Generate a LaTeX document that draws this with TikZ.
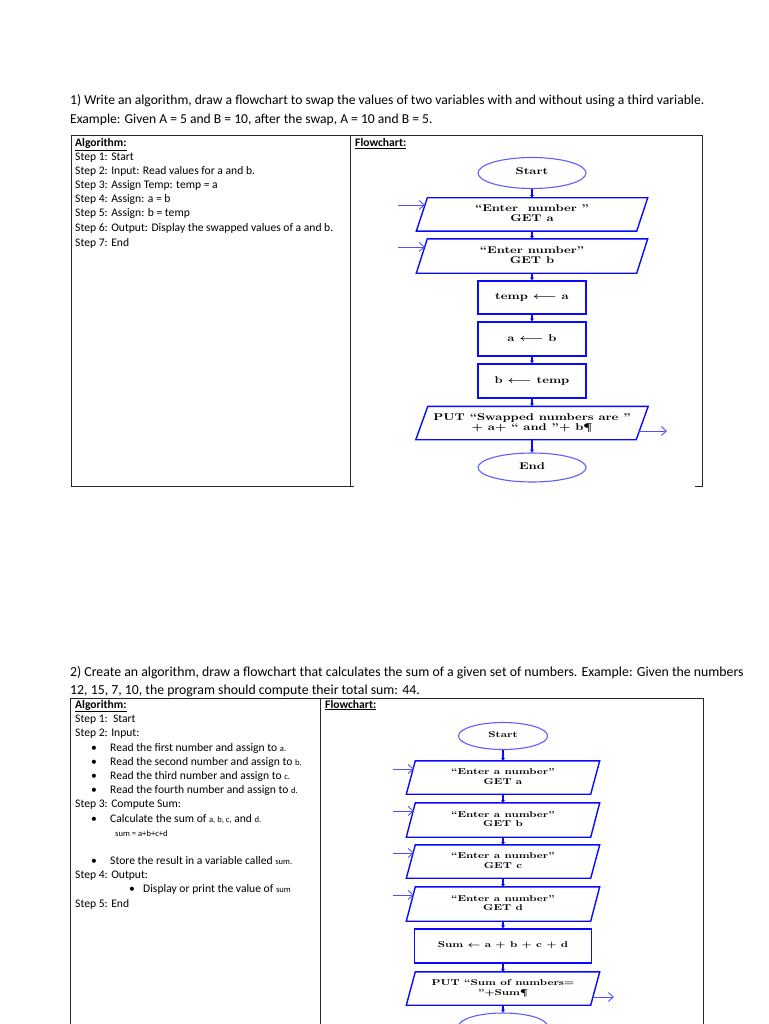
\documentclass[tikz,border=0pt]{standalone}
\usepackage{fontspec}
\usepackage{graphicx}
\usetikzlibrary{arrows.meta,shapes.geometric}
\newfontfamily\calfont{Carlito}
\definecolor{fcblue}{RGB}{10,10,255}
\definecolor{elblue}{RGB}{95,95,255}
\definecolor{arblue}{RGB}{80,80,255}
\newcommand{\fa}[1]{\scalebox{1.3}[1]{\fontsize{9.8}{10}\selectfont\bfseries\boldmath\begin{tabular}{@{}c@{}}#1\end{tabular}}}
\newcommand{\fb}[1]{\scalebox{1.3}[1]{\fontsize{8.5}{9.5}\selectfont\bfseries\boldmath\begin{tabular}{@{}c@{}}#1\end{tabular}}}
\newcommand{\sm}[1]{{\fontsize{8.6}{9}\selectfont #1}}
\newcommand{\paral}[2]{\draw[fc] ([xshift=#2]#1.north west) -- ([xshift=#2]#1.north east) -- ([xshift=-#2]#1.south east) -- ([xshift=-#2]#1.south west) -- cycle;}
\tikzset{
  txt/.style={anchor=base west, inner sep=0pt, font=\calfont\fontsize{11.6}{13}\selectfont},
  hdr/.style={anchor=base west, inner sep=0pt, font=\calfont\fontsize{13.6}{15}\selectfont},
  hdrb/.style={anchor=base west, inner sep=0pt, font=\calfont\fontsize{13.8}{15}\selectfont},
  tab/.style={draw=black!85, line width=1pt},
  fc/.style={draw=fcblue, line width=1.4pt},
  fcel/.style={ellipse, draw=elblue, line width=1.1pt, inner sep=0pt},
  fcbox/.style={rectangle, draw=fcblue, line width=1.4pt, inner sep=0pt},
  fcpar/.style={rectangle, inner sep=0pt},
  conn/.style={draw=fcblue, line width=1.3pt, -{Stealth[length=3pt,width=4pt]}},
  inarr/.style={draw=arblue, line width=0.9pt, -{Straight Barb[length=5pt,width=9pt]}},
}
\begin{document}
\begin{tikzpicture}[x=1pt,y=-1pt]
\fill[white] (0,0) rectangle (768,1024);
\useasboundingbox (0,0) rectangle (768,1024);

% ---------- Part 1 ----------
\node[hdr] (h1a) at (70,104.5) {1) Write an algorithm, draw a flowchart to swap the values of two variables with and without using a third variable.};
\node[hdr] (h1b) at (70,123.5) {Example: Given A = 5 and B = 10, after the swap, A = 10 and B = 5.};

\draw[tab] (71,136) rectangle (350,486);
\draw[tab] (350,486) -- (354,486);
\draw[tab] (350,136) -- (702,136) -- (702,486) -- (695,486);

\node[txt] (a1t) at (75,147) {\underline{\textbf{Algorithm:}}};
\node[txt] (a1s1) at (75,161) {Step 1: Start};
\node[txt] (a1s2) at (75,175) {Step 2: Input: Read values for a and b.};
\node[txt] (a1s3) at (75,189) {Step 3: Assign Temp: temp = a};
\node[txt] (a1s4) at (75,203) {Step 4: Assign: a = b};
\node[txt] (a1s5) at (75,217) {Step 5: Assign: b = temp};
\node[txt] (a1s6) at (75,232) {Step 6: Output: Display the swapped values of a and b.};
\node[txt] (a1s7) at (75,246) {Step 7: End};
\node[txt] (f1t) at (355,147) {\underline{\textbf{Flowchart:}}};

% flowchart 1
\node[fcel, minimum width=108, minimum height=31] (s1) at (532,173) {\fa{Start}};
\node[fcpar, minimum width=220, minimum height=33] (i1) at (532,214.5) {\fa{``Enter\ \ number\ ''\\GET a}};
\paral{i1}{5.5}
\node[fcpar, minimum width=220, minimum height=34] (i2) at (532,256) {\fa{``Enter number''\\GET b}};
\paral{i2}{5.5}
\node[fcbox, minimum width=108, minimum height=33] (r1) at (532,297.5) {\fa{temp $\longleftarrow$ a}};
\node[fcbox, minimum width=108, minimum height=34] (r2) at (532,339) {\fa{a $\longleftarrow$ b}};
\node[fcbox, minimum width=108, minimum height=34] (r3) at (532,381) {\fa{b $\longleftarrow$ temp}};
\node[fcpar, minimum width=220, minimum height=33] (o1) at (532,423) {\fa{PUT ``Swapped numbers are ''\\+ a+ `` and ''+ b¶}};
\paral{o1}{6}
\node[fcel, minimum width=108, minimum height=29] (e1) at (532,467.5) {\fa{End}};

\draw[conn] (s1) -- (i1);
\draw[conn] (i1) -- (i2);
\draw[conn] (i2) -- (r1);
\draw[conn] (r1) -- (r2);
\draw[conn] (r2) -- (r3);
\draw[conn] (r3) -- (o1);
\draw[conn] (o1) -- (e1);

\coordinate (ia1) at (398,205);
\coordinate (ia2) at (398,247);
\coordinate (oa1) at (667,431);
\draw[inarr, shorten >=-3pt] (ia1) -- (ia1 -| i1.west);
\draw[inarr, shorten >=-3pt] (ia2) -- (ia2 -| i2.west);
\draw[inarr, shorten <=-3pt] (oa1 -| o1.east) -- (oa1);

% ---------- Part 2 ----------
\node[hdrb] (h2a) at (70,676.5) {2) Create an algorithm, draw a flowchart that calculates the sum of a given set of numbers. Example: Given the numbers};
\node[hdrb] (h2b) at (70,694.5) {12, 15, 7, 10, the program should compute their total sum: 44.};

\draw[tab] (70,1030) -- (70,698) -- (703,698) -- (703,1030);
\draw[tab] (320,698) -- (320,1030);

\node[txt] (a2t) at (75,708) {\underline{\textbf{Algorithm:}}};
\node[txt] (a2s1) at (75,722) {Step 1:\ \ Start};
\node[txt] (a2s2) at (75,736) {Step 2: Input:};
\node[txt] (b1) at (91,751) {•};
\node[txt] (b1t) at (110,751) {Read the first number and assign to \sm{a.}};
\node[txt] (b2) at (91,765) {•};
\node[txt] (b2t) at (110,765) {Read the second number and assign to \sm{b.}};
\node[txt] (b3) at (91,779) {•};
\node[txt] (b3t) at (110,779) {Read the third number and assign to \sm{c.}};
\node[txt] (b4) at (91,793) {•};
\node[txt] (b4t) at (110,793) {Read the fourth number and assign to \sm{d.}};
\node[txt] (a2s3) at (75,807) {Step 3: Compute Sum:};
\node[txt] (b5) at (91,822) {•};
\node[txt] (b5t) at (110,822) {Calculate the sum of \sm{a, b, c,} and \sm{d.}};
\node[txt] (b5f) at (115,836) {\sm{sum = a+b+c+d}};
\node[txt] (b6) at (91,864) {•};
\node[txt] (b6t) at (110,864) {Store the result in a variable called \sm{sum.}};
\node[txt] (a2s4) at (75,878) {Step 4: Output:};
\node[txt] (b7) at (129,892) {•};
\node[txt] (b7t) at (143,892) {Display or print the value of \sm{sum}};
\node[txt] (a2s5) at (75,907) {Step 5: End};
\node[txt] (f2t) at (325,708) {\underline{\textbf{Flowchart:}}};

% flowchart 2
\node[fcel, minimum width=89, minimum height=27] (s2) at (503,736) {\fb{Start}};
\node[fcpar, minimum width=184, minimum height=33] (j1) at (503,777.5) {\fb{``Enter a number''\\GET a}};
\paral{j1}{4.5}
\node[fcpar, minimum width=184, minimum height=34] (j2) at (503,820) {\fb{``Enter a number''\\GET b}};
\paral{j2}{4.5}
\node[fcpar, minimum width=184, minimum height=33] (j3) at (503,861.5) {\fb{``Enter a number''\\GET c}};
\paral{j3}{4.5}
\node[fcpar, minimum width=184, minimum height=34] (j4) at (503,904) {\fb{``Enter a number''\\GET d}};
\paral{j4}{4.5}
\node[fcbox, minimum width=177, minimum height=34] (q1) at (503,946) {\fb{Sum $\leftarrow$ a + b + c + d}};
\node[fcpar, minimum width=184, minimum height=33] (p1) at (503,988.5) {\fb{PUT ``Sum of numbers=\\''+Sum¶}};
\paral{p1}{4.5}
\node[fcel, minimum width=89, minimum height=27] (e2) at (503,1026.5) {};

\draw[conn] (s2) -- (j1);
\draw[conn] (j1) -- (j2);
\draw[conn] (j2) -- (j3);
\draw[conn] (j3) -- (j4);
\draw[conn] (j4) -- (q1);
\draw[conn] (q1) -- (p1);
\draw[conn] (p1) -- (e2);

\coordinate (ja1) at (393,769);
\coordinate (ja2) at (393,811);
\coordinate (ja3) at (393,853);
\coordinate (ja4) at (393,895);
\coordinate (pa1) at (614,997);
\draw[inarr, shorten >=-3pt] (ja1) -- (ja1 -| j1.west);
\draw[inarr, shorten >=-3pt] (ja2) -- (ja2 -| j2.west);
\draw[inarr, shorten >=-3pt] (ja3) -- (ja3 -| j3.west);
\draw[inarr, shorten >=-3pt] (ja4) -- (ja4 -| j4.west);
\draw[inarr, shorten <=-2pt] (pa1 -| p1.east) -- (pa1);
\end{tikzpicture}
\end{document}
